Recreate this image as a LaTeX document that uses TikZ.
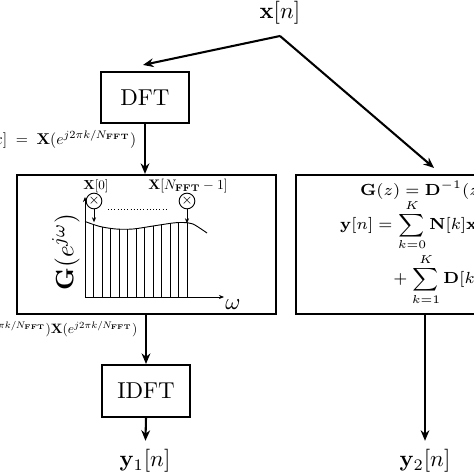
\documentclass[tikz,border=0pt]{standalone}
\usepackage{amsmath}
\usepackage{tikz}
\usepackage{amssymb}
\usetikzlibrary{arrows, arrows.meta, calc, positioning}

\newcommand{\nfft}{N_{\mathbf{FFT}}}

\begin{document}
\begin{tikzpicture}[x=0.435pt, y=-0.435pt, line width=0.9pt, >={Stealth[length=4.6pt, width=3.8pt]},
	main/.style = {draw, rectangle, line width=0.9pt, inner sep=0pt},
	fine/.style = {line width=0.4pt},
	small tip/.style = {-{Stealth[length=2.2pt, width=1.8pt]}}]
		\useasboundingbox (0,0) rectangle (474,474);
		\node (x) at (280,13) {$\mathbf{x}[n]$};
		\coordinate (s) at (280,36);
		\node[main, minimum width=38.3pt, minimum height=22.2pt] (dft) at (145,97.5) {DFT};
		\node[main, minimum width=112.7pt, minimum height=60.5pt] (gf) at (146.5,244.5) {};
		\node[main, minimum width=112.7pt, minimum height=60.5pt] (tf) at (425.5,244.5) {};
		\node[main, minimum width=38.3pt, minimum height=22.6pt] (idft) at (146,391) {IDFT};
		\node (y1) at (145,461) {$\mathbf{y}_1[n]$};
		\node (y2) at (425,461) {$\mathbf{y}_2[n]$};
		% text of the right box
		\node[font=\scriptsize, align=center, inner sep=0pt] (eq) at (443,243) {$\mathbf{G}(z) = \mathbf{D}^{-1}(z)\mathbf{N}(z)$\\[-1pt]
			$\displaystyle\begin{aligned}\mathbf{y}[n] &= \sum_{k=0}^{K}\mathbf{N}[k]\mathbf{x}[n-k]\\[-3pt] &\quad+\sum_{k=1}^{K}\mathbf{D}[k]\mathbf{y}[n-k]\end{aligned}$};
		% spectrum inside the left box
		\draw[fine, small tip] (85,297) -- (85,197);
		\draw[fine, small tip] (85,297) -- (224,297);
		\node (w) at (233,305) {$\omega$};
		\node[rotate=90, font=\fontsize{11}{13}\selectfont] (g) at (66,252) {$\mathbf{G}(e^{j\omega})$};
		\draw[fine] plot[smooth] coordinates {(85,221.5) (100,226.5) (116,229) (133,229) (153,226) (173,223) (183,222.5) (193,224) (207,233)};
		\begin{scope}
			\clip (85,297) -- plot[smooth] coordinates {(85,221.5) (100,226.5) (116,229) (133,229) (153,226) (173,223) (183,222.5) (193,224) (207,233)} -- (207,297) -- cycle;
			\foreach \i in {0,...,11}
				\draw[fine] ({93.5+8.5*\i},297) -- ++(0,-110);
		\end{scope}
		\node[draw, circle, fine, inner sep=0pt, minimum size=5.8pt, font=\tiny] (c0) at (94,201) {$\times$};
		\node[draw, circle, fine, inner sep=0pt, minimum size=5.8pt, font=\tiny] (c1) at (187,201) {$\times$};
		\node[inner sep=1pt] (l0) at (96,186) {\scalebox{0.57}{$\mathbf{X}[0]$}};
		\node[inner sep=1pt] (l1) at (188,186) {\scalebox{0.6}{$\mathbf{X}[\nfft-1]$}};
		\draw[fine, small tip] (c0.south) -- ($(c0.south)+(0,13)$);
		\draw[fine, small tip] (c1.south) -- ($(c1.south)+(0,14)$);
		\draw[fine, densely dotted] (108,209) -- (167,209);
		% connectors
		\draw[->] (s) -- ($(dft.north)+(-2,-6)$);
		\draw[->] (s) -- ($(tf.north)+(8.5,-6)$);
		\draw[->] (dft.south) -- node[left, pos=0.3] {\scalebox{0.68}{$\mathbf{X}[k] \;=\; \mathbf{X}(e^{j2\pi k/\nfft})$}} (dft.south |- gf.north);
		\draw[->] (gf.south -| idft.north) -- node[left, pos=0.28] {\scalebox{0.59}{$\mathbf{Y}[k] = \mathbf{G}(e^{j2\pi k/\nfft})\mathbf{X}(e^{j2\pi k/\nfft})$}} (idft.north);
		\draw[->] (idft.south) -- (y1);
		\draw[->] (tf.south -| y2) -- (y2);
	\end{tikzpicture}
\end{document}
